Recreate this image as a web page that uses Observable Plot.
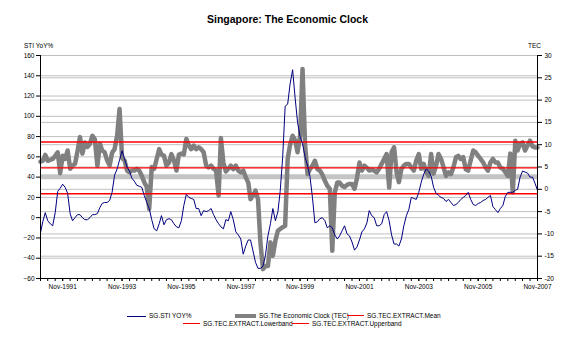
<!DOCTYPE html>
<html><head><meta charset="utf-8">
<script src="https://cdn.jsdelivr.net/npm/d3@7"></script>
<script src="https://cdn.jsdelivr.net/npm/@observablehq/plot@0.6"></script>
<style>
body{margin:0;background:#fff;font-family:"Liberation Sans",Arial,sans-serif;}
#wrap{position:relative;width:575px;height:342px;overflow:hidden;background:#fff;}
#chart{position:absolute;left:0;top:0;}
.t{position:absolute;white-space:nowrap;color:#000;line-height:1;}
.ln{position:absolute;height:0;}
</style></head><body>
<div id="wrap"><div id="chart"></div>
<div class="t" style="left:0;width:575px;text-align:center;top:14px;font-size:10.5px;font-weight:bold;">Singapore: The Economic Clock</div>
<div class="t" style="left:24px;top:43px;font-size:6.5px;">STI YoY%</div>
<div class="t" style="left:528px;top:43px;font-size:6.5px;">TEC</div>
<div id="legend"></div>
</div>
<script>
const startMonth = "1991-02-01";
// SG.STI YOY% (left axis), monthly from Feb 1991
const sti = [
 -15,-4,5,-3,-6,-8,5,26,29,33,30,24,
 4,-3,0,3,3,0,-2,-2,0,3,3,4,
 10,14,15,15,17,25,42,48,57,66,58,50,
 46,39,36,32,31,30,22,15,9,-2,-11,-13,
 -6,2,-7,-2,-1,-2,-6,-9,-10,-3,12,23,
 20,19,18,9,9,2,7,6,7,9,3,-2,
 -6,-9,-11,-2,-3,6,-2,-14,-17,-21,-36,-28,
 -22,-22,-33,-44,-50,-50,-48,-37,-18,-6,9,-3,
 6,26,60,110,112,132,146,118,94,80,73,60,
 51,41,20,-5,-4,-1,0,-3,-10,-8,-10,-17,
 -21,-18,-13,-8,-16,-18,-24,-32,-29,-22,-14,-11,
 -5,7,2,0,-8,-8,-6,3,6,-3,-17,-26,
 -26,-28,-21,-8,2,8,20,19,18,25,35,43,
 48,46,41,30,24,22,20,19,16,18,15,12,
 13,15,18,20,22,25,18,13,12,14,15,17,
 18,20,22,11,8,5,9,12,21,25,25,25,
 27,28,40,46,45,44,40,40,34,27
];
// SG.The Economic Clock (TEC) (right axis), monthly from Feb 1991
const tec = [
 6.2,6.4,7.7,6.4,6.6,6.8,7.5,8.3,3.6,7.5,6.8,8.7,
 4.6,5.3,5.7,8.5,11.7,8.0,10.5,9.5,10.2,12.0,11.2,5.3,
 10.2,8.7,8.3,6.5,5.3,8.2,9.0,12.0,18.0,7.0,6.5,4.2,
 3.8,4.2,4.2,4.6,4.2,3.0,1.6,0.5,-4.4,5.0,4.6,6.8,
 9.0,7.8,7.5,5.3,6.0,7.9,6.5,4.2,7.8,8.0,7.8,11.3,
 9.8,9.0,9.8,9.0,9.4,9.0,8.3,5.3,4.9,5.3,4.6,4.2,
 -1.4,11.5,6.0,4.0,4.6,5.3,4.5,5.3,4.2,3.8,4.2,2.7,
 1.5,-2.2,-1.4,-0.3,-2.2,-12.0,-17.9,-17.2,-17.2,-11.9,-14.9,-11.5,
 -9.3,-8.9,-8.5,-8.2,6.8,10.0,12.0,11.0,8.3,12.0,27.0,10.0,
 3.4,4.5,5.3,6.4,4.5,4.2,3.3,1.9,0.8,0.1,-13.8,-0.7,
 1.5,1.5,0.8,0.5,1.0,1.2,1.2,0.1,2.5,6.0,4.2,5.3,
 4.8,4.2,4.4,4.2,3.8,4.6,5.7,6.8,7.9,0.4,8.3,9.4,
 3.8,1.6,4.6,5.3,5.7,5.7,4.9,4.2,6.5,7.9,4.6,5.7,
 3.8,3.0,7.9,3.5,5.3,7.9,6.8,4.9,3.0,3.8,3.4,5.0,
 7.2,7.5,6.8,7.2,4.5,4.2,6.5,8.7,8.3,7.5,6.8,6.0,
 4.9,4.2,6.0,6.8,6.0,6.0,4.9,4.6,3.8,3.0,8.0,-0.7,
 10.9,8.7,10.2,10.5,8.7,9.8,10.9,9.6,9.4,9.4
];
const tecBands = [
  {name: "SG.TEC.EXTRACT.Upperband", value: 10.6},
  {name: "SG.TEC.EXTRACT.Mean", value: 4.8},
  {name: "SG.TEC.EXTRACT.Lowerband", value: -1.0}
];
const shadeLevel = 2.8; // TEC units
const leftTicks = [160,140,120,100,80,60,40,20,0,-20,-40,-60];
const rightTicks = [30,25,20,15,10,5,0,-5,-10,-15,-20];
const leftDomain = [-60,160];
const rightDomain = [-20,30];
const seriesNames = ["SG.STI YOY%","SG.The Economic Clock (TEC)","SG.TEC.EXTRACT.Mean","SG.TEC.EXTRACT.Lowerband","SG.TEC.EXTRACT.Upperband"];

const toLeft = t => leftDomain[0] + (t - rightDomain[0]) * (leftDomain[1]-leftDomain[0])/(rightDomain[1]-rightDomain[0]);
const fromLeft = v => rightDomain[0] + (v - leftDomain[0]) * (rightDomain[1]-rightDomain[0])/(leftDomain[1]-leftDomain[0]);

const start = new Date(startMonth + "T00:00:00Z");
const dates = sti.map((_, i) => d3.utcMonth.offset(start, i));
const stiData = sti.map((v, i) => ({date: dates[i], v}));
const tecData = tec.map((v, i) => ({date: dates[i], v: toLeft(v)}));
const x0 = dates[0], x1 = dates[dates.length-1];
const quarterTicks = d3.utcMonths(x0, d3.utcMonth.offset(x1, 1), 3);
const labelTicks = quarterTicks.filter(d => d.getUTCMonth() === 10 && d.getUTCFullYear() % 2 === 1);

const grid = "#c0c0c0";
const chart = Plot.plot({
  width: 575, height: 342,
  marginTop: 55, marginBottom: 64, marginLeft: 40, marginRight: 38,
  style: {fontFamily: "'Liberation Sans', Arial, sans-serif", fontSize: "6.5px", background: "#fff", color: "#000"},
  x: {type: "utc", domain: [x0, x1]},
  y: {domain: leftDomain},
  marks: [
    Plot.gridY(leftTicks, {stroke: grid, strokeOpacity: 1}),
    Plot.gridY(rightTicks.map(toLeft), {stroke: grid, strokeOpacity: 1}),
    Plot.ruleY([toLeft(shadeLevel)], {stroke: "#c4c4c4", strokeWidth: 5}),
    Plot.line(tecData, {x: "date", y: "v", stroke: "#808080", strokeWidth: 4.5}),
    Plot.ruleY(tecBands, {y: d => toLeft(d.value), x1: x0, x2: x1, stroke: "#ff0000", strokeWidth: 1.3}),
    Plot.line(stiData, {x: "date", y: "v", stroke: "#000080", strokeWidth: 1}),
    Plot.ruleX([x0, x1], {stroke: "#000", strokeWidth: 1}),
    Plot.ruleY([leftDomain[0]], {stroke: "#000", strokeWidth: 1}),
    Plot.axisY(leftTicks, {anchor: "left", tickSize: 4, tickPadding: 2, label: null}),
    Plot.axisY(rightTicks.map(toLeft), {anchor: "right", tickSize: 4, tickPadding: 3, label: null, tickFormat: d => String(Math.round(fromLeft(d)))}),
    Plot.axisX(quarterTicks, {tickSize: 3, tickFormat: () => "", label: null}),
    Plot.axisX(labelTicks, {tickSize: 3, tickPadding: 3, tickFormat: d3.utcFormat("%b-%Y"), label: null})
  ]
});
document.getElementById("chart").appendChild(chart);

// legend
const legendStyles = [
  {stroke: "#000080", w: 1, row: 0, left: 127, len: 19},
  {stroke: "#808080", w: 4, row: 0, left: 235, len: 21},
  {stroke: "#ff0000", w: 1.3, row: 0, left: 347, len: 17},
  {stroke: "#ff0000", w: 1.3, row: 1, left: 183, len: 17},
  {stroke: "#ff0000", w: 1.3, row: 1, left: 292, len: 17}
];
const lg = document.getElementById("legend");
seriesNames.forEach((name, i) => {
  const s = legendStyles[i];
  const cy = 316 + s.row * 8;
  const line = document.createElement("div");
  line.className = "ln";
  line.style.cssText = `left:${s.left}px;top:${cy - s.w/2}px;width:${s.len}px;border-top:${s.w}px solid ${s.stroke};`;
  lg.appendChild(line);
  const t = document.createElement("div");
  t.className = "t";
  t.style.cssText = `left:${s.left + s.len + 3}px;top:${cy - 3.5}px;font-size:6.5px;`;
  t.textContent = name;
  lg.appendChild(t);
});
</script>
</body></html>
